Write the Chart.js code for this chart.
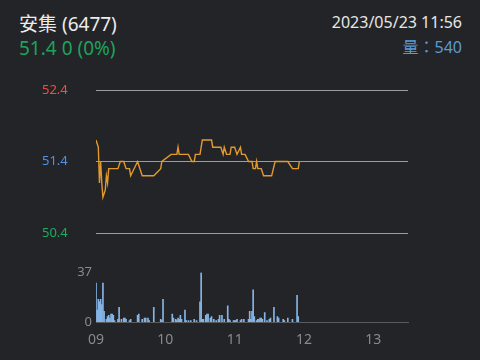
<!DOCTYPE html>
<html>
<head>
<meta charset="utf-8">
<script src="https://cdn.jsdelivr.net/npm/chart.js@4.4.0/dist/chart.umd.min.js"></script>
<style>
  body { margin: 0; background: #232427; width: 480px; height: 360px; overflow: hidden; position: relative;
         font-family: "Noto Sans", "Noto Sans CJK TC", sans-serif; }
  .t { position: absolute; white-space: nowrap; }
  canvas { position: absolute; left: 0; }
</style>
</head>
<body>
<div class="t" style="left:19px;top:15px;font-size:19px;line-height:19px;color:#ececec">安集 (6477)</div>
<div class="t" style="left:19px;top:39px;font-size:19px;line-height:19px;color:#1da35c">51.4 0 (0%)</div>
<div class="t" style="right:18px;top:14px;font-size:16px;line-height:16px;color:#e6e6e6">2023/05/23 11:56</div>
<div class="t" style="right:18px;top:39px;font-size:16px;line-height:16px;color:#5b9bd5">量：540</div>

<canvas id="price" width="480" height="200" style="top:60px"></canvas>
<canvas id="volume" width="480" height="105" style="top:255px"></canvas>

<script>
// minutes after 09:00
const priceMinutes = [0, 2, 3, 4, 5, 6, 8, 9, 10, 11, 19, 21, 24, 26, 29, 30, 36, 40, 50, 56,
  57, 65, 70, 71, 72, 80, 83, 85, 86, 90, 92, 100, 101, 108, 110, 111, 113, 116, 117, 120,
  122, 125, 126, 129, 132, 135, 136, 138, 139, 140, 143, 145, 152, 155, 166, 170, 175, 176];
const priceValues = [51.7, 51.6, 51.1, 51.4, 51.1, 50.9, 51.0, 51.2, 51.1, 51.3, 51.3, 51.4, 51.4, 51.3, 51.3, 51.2, 51.4, 51.2, 51.2, 51.3,
  51.4, 51.5, 51.5, 51.6, 51.5, 51.5, 51.4, 51.4, 51.5, 51.5, 51.7, 51.7, 51.6, 51.6, 51.5, 51.6, 51.5, 51.5, 51.6, 51.6,
  51.5, 51.6, 51.5, 51.5, 51.4, 51.4, 51.3, 51.3, 51.4, 51.3, 51.3, 51.2, 51.2, 51.4, 51.4, 51.3, 51.3, 51.4];

const volMinutes = [0, 1, 2, 3, 4, 5, 6, 7, 9, 10, 11, 12, 13, 14, 15, 16, 19, 20, 22, 24,
  25, 26, 29, 30, 36, 37, 40, 42, 43, 45, 46, 50, 56, 57, 58, 66, 67, 69, 70, 71,
  72, 73, 74, 77, 78, 80, 82, 85, 87, 90, 91, 92, 93, 95, 96, 97, 99, 100, 102, 104,
  106, 107, 109, 111, 114, 115, 116, 119, 120, 121, 122, 125, 126, 128, 132, 133, 134, 135, 136, 137,
  139, 140, 141, 142, 143, 144, 146, 148, 150, 151, 154, 157, 158, 162, 163, 166, 170, 174, 175];
const volValues = [29, 9, 17, 15, 17, 13, 29, 8, 2, 4, 5, 3, 6, 6, 5, 1, 2, 11, 2, 3,
  3, 2, 1, 2, 5, 6, 2, 3, 3, 3, 1, 11, 2, 1, 17, 6, 3, 2, 1, 3,
  2, 5, 2, 9, 1, 1, 1, 2, 1, 15, 37, 2, 2, 5, 6, 6, 3, 4, 2, 1,
  2, 5, 5, 2, 12, 2, 1, 1, 1, 1, 2, 1, 2, 2, 2, 8, 2, 8, 24, 4,
  1, 2, 2, 3, 3, 2, 7, 1, 2, 3, 11, 4, 3, 2, 1, 3, 2, 20, 4];

const priceTicks = [50.4, 51.4, 52.4];
const priceTickColors = ["#17b05e", "#4d94e6", "#ff4a3a"];
const volTicks = [0, 37];
const timeTicks = [0, 60, 120, 180, 240];
const timeLabels = ["09", "10", "11", "12", "13"];

Chart.defaults.font.family = '"Noto Sans", "Noto Sans CJK TC", sans-serif';
Chart.defaults.animation = false;

new Chart(document.getElementById("price"), {
  type: "line",
  data: {
    datasets: [{
      data: priceMinutes.map((m, i) => ({ x: m, y: priceValues[i] })),
      borderColor: "#e39a2c",
      borderWidth: 1.4,
      pointRadius: 0,
      tension: 0
    }]
  },
  options: {
    responsive: false,
    layout: { padding: { top: 30, bottom: 27, right: 72, left: 42 } },
    plugins: { legend: { display: false }, tooltip: { enabled: false } },
    scales: {
      x: { type: "linear", min: 0, max: 270, display: false },
      y: {
        min: 50.4, max: 52.4,
        afterBuildTicks: s => { s.ticks = priceTicks.map(v => ({ value: v })); },
        afterFit: s => { s.width = 54; },
        ticks: {
          padding: 0,
          crossAlign: "far",
          color: c => priceTickColors[c.index],
          font: { size: 13 },
          callback: v => v.toFixed(1)
        },
        grid: { color: "#9c9c9c", drawTicks: false },
        border: { display: false }
      }
    }
  }
});

new Chart(document.getElementById("volume"), {
  type: "bar",
  data: {
    datasets: [{
      data: volMinutes.map((m, i) => ({ x: m, y: volValues[i] })),
      backgroundColor: "#85b5e6",
      barThickness: 1
    }]
  },
  options: {
    responsive: false,
    layout: { padding: { top: 17.5, bottom: 0, right: 72, left: 0 } },
    plugins: { legend: { display: false }, tooltip: { enabled: false } },
    scales: {
      x: {
        type: "linear", min: 0, max: 270, offset: false,
        afterBuildTicks: s => { s.ticks = timeTicks.map(v => ({ value: v })); },
        afterFit: s => { s.height = 38; },
        ticks: {
          padding: 10,
          color: "#8a8a8a",
          font: { size: 14 },
          maxRotation: 0,
          callback: (v, i) => timeLabels[i]
        },
        grid: { drawOnChartArea: false, drawTicks: false, offset: false },
        border: { color: "#5a5a5a", width: 1 }
      },
      y: {
        min: 0, max: 37,
        afterBuildTicks: s => { s.ticks = volTicks.map(v => ({ value: v })); },
        afterFit: s => { s.width = 96; },
        ticks: { padding: 4, color: "#8a8a8a", font: { size: 13 } },
        grid: { display: false, drawTicks: false },
        border: { display: false }
      }
    }
  }
});
</script>
</body>
</html>
